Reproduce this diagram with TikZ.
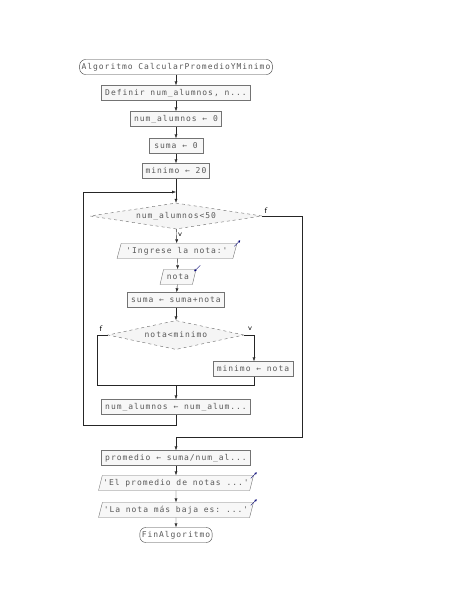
\documentclass[tikz,border=0pt]{standalone}
\usepackage{fontspec}
\setmonofont[LetterSpace=12]{DejaVu Sans Mono}
\usetikzlibrary{shapes.geometric, arrows.meta, positioning, calc}

\begin{document}
\begin{tikzpicture}[x=1pt, y=-1pt,
                proc/.style={rectangle, draw=black!55, fill=black!3, minimum height=15pt, inner sep=1pt, font=\ttfamily\fontsize{8}{9}\selectfont, text=black!65},
                term/.style={rectangle, rounded corners=6pt, draw=black!75, fill=white, minimum height=15pt, inner sep=2pt, font=\ttfamily\fontsize{8}{9}\selectfont, text=black!65},
                io/.style={trapezium, trapezium left angle=69, trapezium right angle=111, trapezium stretches=true, draw=black!55, fill=black!3, minimum height=15pt, inner sep=1pt, font=\ttfamily\fontsize{8}{9}\selectfont, text=black!65},
                cond/.style={diamond, draw=black!60, dashed, fill=black!4, inner sep=0pt, font=\ttfamily\fontsize{8}{9}\selectfont, text=black!65},
                flow/.style={-{Latex[length=4pt, width=3pt]}, black!85},
                lbl/.style={font=\sffamily\fontsize{8}{9}\selectfont, text=black},
                icon/.style={-{Stealth[length=2.5pt, width=2.5pt]}, blue!45!black}
            ]
                \useasboundingbox (0,0) rectangle (474,613);

                \node[term] (start) at (176,67) {Algoritmo CalcularPromedioYMinimo};
                \node[proc, minimum width=149pt] (defn) at (176,93) {Definir num\_alumnos, n...};
                \node[proc, minimum width=91pt] (na0) at (176,119) {num\_alumnos ← 0};
                \node[proc, minimum width=54pt] (suma0) at (176,146) {suma ← 0};
                \node[proc, minimum width=67pt] (min20) at (176,171) {minimo ← 20};

                \node[cond, aspect=6.6, minimum width=172pt, minimum height=26pt] (whl) at (176,216) {num\_alumnos<50};
                \node[io, minimum width=120pt] (ingrese) at (177,251) {'Ingrese la nota:'};
                \node[io, minimum width=36pt] (nota) at (178,277) {nota};
                \node[proc, minimum width=97pt] (sumaop) at (176,300) {suma ← suma+nota};
                \node[cond, aspect=4.7, minimum width=136pt, minimum height=29pt] (ifmin) at (176,335) {nota<minimo};
                \node[proc, minimum width=80pt] (minnota) at (253,369) {minimo ← nota};
                \node[proc, minimum width=149pt] (incr) at (176,407) {num\_alumnos ← num\_alum...};

                \node[proc, minimum width=149pt] (prom) at (176,458) {promedio ← suma/num\_al...};
                \node[io, minimum width=155pt] (out1) at (176,483) {'El promedio de notas ...'};
                \node[io, minimum width=155pt] (out2) at (176,510) {'La nota más baja es: ...'};
                \node[term] (fin) at (176,535) {FinAlgoritmo};

                % branch labels
                \node[lbl] (wf) at (266,211) {f};
                \node[lbl] (wv) at (180,235) {v};
                \node[lbl] (iff) at (101,329) {f};
                \node[lbl] (ifv) at (250,329) {v};

                % corners of the loops
                \coordinate (loopin) at (176,192);
                \coordinate (loopul) at (83,192);
                \coordinate (loopll) at (83,425);
                \coordinate (incrout) at (176,425);
                \coordinate (exitr) at (302,216);
                \coordinate (exitb) at (302,437);
                \coordinate (exitin) at (176,437);
                \coordinate (fl) at (97,335);
                \coordinate (fb) at (97,385);
                \coordinate (vr) at (254,335);
                \coordinate (vb) at (254,385);
                \coordinate (join) at (176,385);

                \draw[flow] (start) -- (defn);
                \draw[flow] (defn) -- (na0);
                \draw[flow] (na0) -- (suma0);
                \draw[flow] (suma0) -- (min20);
                \draw[flow] (min20) -- (whl);
                \draw[flow] (whl) -- (ingrese);
                \draw[flow] (ingrese) -- (nota);
                \draw[flow] (nota) -- (sumaop);
                \draw[flow] (sumaop) -- (ifmin);
                \draw[black!85] (ifmin.west) -- (fl) -- (fb);
                \draw[flow] (ifmin.east) -- (vr) -- (minnota.north -| vr);
                \draw[black!85] (minnota.south -| vb) -- (vb) -- (fb);
                \draw[flow] (join) -- (incr);
                \draw[flow] (incr) -- (incrout) -- (loopll) -- (loopul) -- (loopin);
                \draw[flow] (whl.east) -- (exitr) -- (exitb) -- (exitin) -- (prom);
                \draw[flow] (prom) -- (out1);
                \draw[flow] (out1) -- (out2);
                \draw[flow] (out2) -- (fin);

                % in/out marks
                \draw[icon] ($(ingrese.top right corner)+(-3,3)$) -- ++(6,-6);
                \draw[icon] ($(nota.top right corner)+(4,-4)$) -- ++(-6,6);
                \draw[icon] ($(out1.top right corner)+(-3,3)$) -- ++(6,-6);
                \draw[icon] ($(out2.top right corner)+(-3,3)$) -- ++(6,-6);
            \end{tikzpicture}
\end{document}
